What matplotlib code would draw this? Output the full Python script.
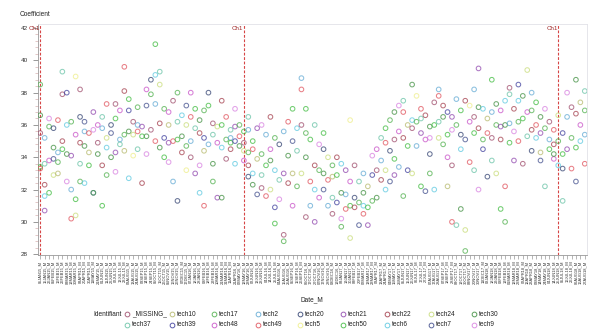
import matplotlib
matplotlib.use("Agg")
import matplotlib.pyplot as plt
from matplotlib.lines import Line2D
from matplotlib.ticker import MultipleLocator

plt.rcParams['font.family'] = ['Liberation Sans', 'DejaVu Sans']

techs = ["_MISSING_", "tech10", "tech17", "tech2", "tech20", "tech21", "tech22", "tech24", "tech30",
         "tech37", "tech39", "tech48", "tech49", "tech5", "tech50", "tech6", "tech7", "tech9"]
tech_colors = ["#9E4A6A", "#B5B86A", "#4DAF4A", "#5FA8D3", "#2F3F6F", "#8E44AD", "#A33C4A", "#C8DC78",
               "#3E8E3E", "#66C2A5", "#3B3B9B", "#C74FC7", "#E0505A", "#EEEE88", "#3DBB3D", "#5BC8E0",
               "#3D4A8A", "#D77FE0"]
tech_codes = "ABCDEFGHIJKLMNOPQR"

dates = ("05JAN15 15JAN15 26JAN15 05FEB15 16FEB15 26FEB15 09MAR15 19MAR15 30MAR15 09APR15 20APR15 30APR15 "
         "11MAY15 21MAY15 01JUN15 11JUN15 22JUN15 02JUL15 13JUL15 23JUL15 03AUG15 13AUG15 24AUG15 03SEP15 "
         "14SEP15 24SEP15 05OCT15 15OCT15 26OCT15 05NOV15 16NOV15 26NOV15 07DEC15 17DEC15 "
         "07JAN16 18JAN16 28JAN16 08FEB16 18FEB16 29FEB16 10MAR16 21MAR16 31MAR16 11APR16 21APR16 02MAY16 "
         "12MAY16 23MAY16 02JUN16 13JUN16 23JUN16 04JUL16 14JUL16 25JUL16 04AUG16 15AUG16 25AUG16 05SEP16 "
         "15SEP16 26SEP16 06OCT16 17OCT16 27OCT16 07NOV16 17NOV16 28NOV16 08DEC16 19DEC16 "
         "09JAN17 19JAN17 30JAN17 09FEB17 20FEB17 02MAR17 13MAR17 23MAR17 03APR17 13APR17 24APR17 04MAY17 "
         "15MAY17 25MAY17 05JUN17 15JUN17 26JUN17 06JUL17 17JUL17 27JUL17 07AUG17 17AUG17 28AUG17 07SEP17 "
         "18SEP17 28SEP17 09OCT17 19OCT17 30OCT17 09NOV17 20NOV17 30NOV17 11DEC17 "
         "08JAN18 18JAN18 29JAN18 08FEB18 19FEB18 01MAR18 12MAR18 22MAR18 02APR18 12APR18 23APR18 03MAY18 "
         "14MAY18 24MAY18 04JUN18 14JUN18 25JUN18 05JUL18 16JUL18 26JUL18 06AUG18 16AUG18 27AUG18").split()
date_labels = [d + "_M" for d in dates]

values = [
    [38.5, 36.6, 35.5, 33.4, 33.3], [35.2, 33.6, 32.3, 31.6, 30.7], [36.4, 35.9, 33.8, 31.8],
    [35.8, 34.6, 33.9, 32.9], [36.3, 34.3, 33.7, 33.0], [39.3, 37.9, 35.0, 34.5],
    [38.0, 36.0, 34.2, 32.5], [36.2, 34.1, 32.0, 30.2], [39.0, 35.4, 31.4, 30.4],
    [38.2, 36.5, 34.9, 33.6, 32.5], [36.2, 35.6, 34.7, 32.4], [35.5, 34.3, 33.5],
    [36.8, 35.7, 31.8, 31.8], [36.0, 34.9, 34.2], [36.5, 35.8, 33.5, 31.0],
    [37.3, 35.2, 34.6, 32.9], [36.0, 35.5, 34.0], [37.3, 36.4, 34.3, 33.1],
    [36.9, 35.1, 34.8], [39.6, 38.1, 35.4, 34.4], [37.6, 36.9, 35.6, 32.7],
    [36.2, 35.4, 34.1], [37.1, 36.0, 35.6, 34.5], [35.9, 35.3, 32.4],
    [38.2, 37.2, 35.3, 34.2], [38.8, 37.9, 35.7], [41.0, 39.1, 37.3, 35.0],
    [39.3, 38.5, 36.1, 34.6], [37.0, 35.2, 34.0], [36.8, 36.0, 34.9, 33.7],
    [37.5, 35.0, 32.5], [38.0, 36.2, 35.1, 31.3], [36.6, 35.3, 34.3],
    [37.2, 36.0, 34.7, 33.2], [38.0, 36.5, 35.0, 34.0], [37.0, 35.8, 33.0],
    [36.3, 35.5, 33.5, 31.8], [36.9, 35.2, 34.4, 31.0], [38.0, 37.2, 34.8],
    [36.1, 35.4, 33.6, 32.5], [35.9, 34.9, 31.5], [37.5, 36.0, 34.6, 31.5],
    [36.5, 35.1, 33.9], [35.7, 35.2, 34.9, 34.5], [37.0, 35.9, 35.0, 33.6],
    [36.0, 35.3, 34.7], [35.6, 34.9, 34.4, 33.8], [36.5, 35.7, 34.3, 33.5, 32.8],
    [35.0, 34.5, 33.0, 32.3], [35.8, 33.9, 31.7], [36.0, 34.2, 32.9, 32.1],
    [35.4, 33.5, 31.6], [36.5, 34.5, 33.8, 32.0], [35.2, 33.2, 30.9, 29.9],
    [34.8, 32.6, 31.4], [35.6, 33.0, 29.2, 28.8], [36.2, 34.1, 32.4],
    [37.0, 35.0, 33.0, 31.0], [35.8, 34.4, 32.2], [38.9, 38.2, 36.0, 33.0],
    [37.0, 35.5, 34.0, 30.3], [35.1, 32.5, 31.0], [36.0, 33.5, 32.0, 30.0],
    [34.8, 33.2, 31.5], [35.5, 34.5, 33.0, 32.0], [34.0, 32.6, 31.0],
    [33.5, 32.8, 31.5, 30.5], [34.0, 32.9, 31.2], [33.6, 31.8, 30.2, 29.7],
    [33.2, 31.7, 30.8], [36.3, 32.5, 31.0, 29.0], [33.5, 31.5, 30.9],
    [32.5, 31.2, 29.8], [33.0, 31.8, 31.0, 30.5], [32.2, 30.9, 29.8],
    [34.1, 32.9, 31.3], [34.5, 33.2, 31.5], [35.2, 33.8, 32.6],
    [35.8, 34.9, 33.2, 32.0], [36.3, 34.4, 32.5], [36.8, 35.1, 33.9, 32.9],
    [37.2, 35.6, 33.4], [37.5, 36.8, 35.2, 31.6], [36.0, 34.7, 33.2],
    [38.5, 36.3, 35.8, 33.0], [37.8, 36.2, 34.7], [37.0, 36.4, 35.5, 32.2],
    [36.6, 35.1, 31.9], [35.9, 35.2, 34.2, 33.0], [37.4, 36.0, 32.0],
    [38.2, 37.8, 36.2, 35.2], [37.2, 36.5, 34.8], [36.8, 35.4, 34.0, 32.2],
    [36.5, 35.7, 33.5, 30.0], [37.6, 36.0, 29.8], [36.9, 35.4, 34.5, 30.8],
    [37.5, 35.1, 29.5, 28.2], [37.2, 36.2, 33.7], [38.2, 36.5, 35.5, 33.2],
    [39.5, 37.1, 35.8, 32.0], [37.0, 35.1, 34.5], [36.4, 35.5, 32.8],
    [38.8, 36.8, 35.2, 33.8], [37.3, 36.0, 33.0], [36.9, 35.9, 35.1, 30.8],
    [37.5, 36.0, 32.2, 30.0], [38.3, 37.9, 36.1, 34.9], [37.0, 35.6, 33.8],
    [38.5, 37.5, 36.2, 35.0], [37.8, 36.4, 33.6], [39.4, 36.8, 35.3],
    [38.0, 36.9, 35.7, 34.4], [37.4, 36.0, 35.2], [36.5, 35.5, 34.3, 33.8],
    [37.0, 35.8, 32.2], [36.2, 35.1, 34.5], [35.7, 34.8, 33.9, 34.2],
    [36.6, 35.0, 33.5], [35.5, 34.2, 33.3, 31.3], [38.0, 36.5, 34.5],
    [37.1, 35.2, 33.3], [38.8, 36.7, 34.6, 32.5], [37.4, 36.0, 35.0],
    [38.1, 36.9, 35.4, 33.6],
]

tech_seq = ("CIAOMDJGPFRCLOEIQHMDCBJAGOKPIRCFDMNLOHAEGJCQDIPMBOFRKCLAIJDGOMHPCEQIAOFRLDJ"
            "MGCBOKIPAHNCDMJFOGLQIRECAOPDMJHGICKOLBFRAMDCJOEPIGQHCNLMDAOJFIGRPCKBMEODAJI"
            "CHLFGOPIMCAJDOGRFKPCMIOAHLJDCGEOMPIFBQRCJADOMGLIHCPKOEJRDFACMIGOQBLPJCDMAHO")

ch1_positions = [0, 46, 117]
ch1_label = "Ch1"

W, H = 604, 335
fig = plt.figure(figsize=(W / 100, H / 100), dpi=100)
ax = fig.add_axes([38 / W, 1 - 255 / H, 549 / W, 231 / H])

xs, ys, cs = [], [], []
k = 0
for i, vals in enumerate(values):
    for v in vals:
        xs.append(i)
        ys.append(v)
        cs.append(tech_colors[tech_codes.index(tech_seq[k % len(tech_seq)])])
        k += 1
ax.scatter(xs, ys, s=11, facecolors='none', edgecolors=cs, linewidths=0.75, alpha=0.72, zorder=3)

for p in ch1_positions:
    ax.axvline(p, color='#D64545', lw=0.8, ls=(0, (2.5, 1.5)), zorder=2)
    ax.text(p - 0.1, 41.95, ch1_label, ha='right', va='center', fontsize=4.5, color='#A02A2A', zorder=4)

n = len(date_labels)
ax.set_xlim(-0.5, n - 0.5)
ax.set_ylim(27.95, 42.25)
ax.set_xticks(range(n))
ax.set_xticklabels(date_labels, rotation=90, fontsize=2.9, color='#333333')
ax.set_yticks([28, 30, 32, 34, 36, 38, 40, 42])
ax.yaxis.set_minor_locator(MultipleLocator(0.4))
ax.tick_params(axis='y', which='major', labelsize=4.6, length=3.5, width=0.6, color='#888888', pad=4, labelcolor='#333333')
ax.tick_params(axis='y', which='minor', length=2.2, width=0.5, color='#D8B0B0')
ax.tick_params(axis='x', which='major', length=3, width=0.5, color='#999999', pad=1)

for s in ['left', 'bottom']:
    ax.spines[s].set_color('#999999')
    ax.spines[s].set_linewidth(0.6)
for s in ['top', 'right']:
    ax.spines[s].set_color('#E2E2E8')
    ax.spines[s].set_linewidth(0.6)

fig.text(20 / W, 1 - 15 / H, "Coefficient", fontsize=4.7, ha='left', va='center', color='#222222')
fig.text(312 / W, 1 - 300 / H, "Date_M", fontsize=4.7, ha='center', va='center', color='#222222')

# Legend
fig.text(122 / W, 1 - 314 / H, "Identifiant", fontsize=4.7, ha='right', va='center', color='#222222')
col_x = [127, 172, 214, 258, 300, 343, 387, 431, 474]
row_y = [314, 325]
for j, (name, col) in enumerate(zip(techs, tech_colors)):
    r, c = divmod(j, 9)
    x, y = col_x[c], row_y[r]
    fig.add_artist(Line2D([x / W], [1 - y / H], transform=fig.transFigure, marker='o', markersize=3.4,
                          markerfacecolor='none', markeredgecolor=col, markeredgewidth=0.7, linestyle='none',
                          alpha=0.85))
    fig.text((x + 5) / W, 1 - y / H, name, fontsize=4.7, ha='left', va='center', color='#222222')

fig.savefig("out.png", dpi=100, facecolor='white')
